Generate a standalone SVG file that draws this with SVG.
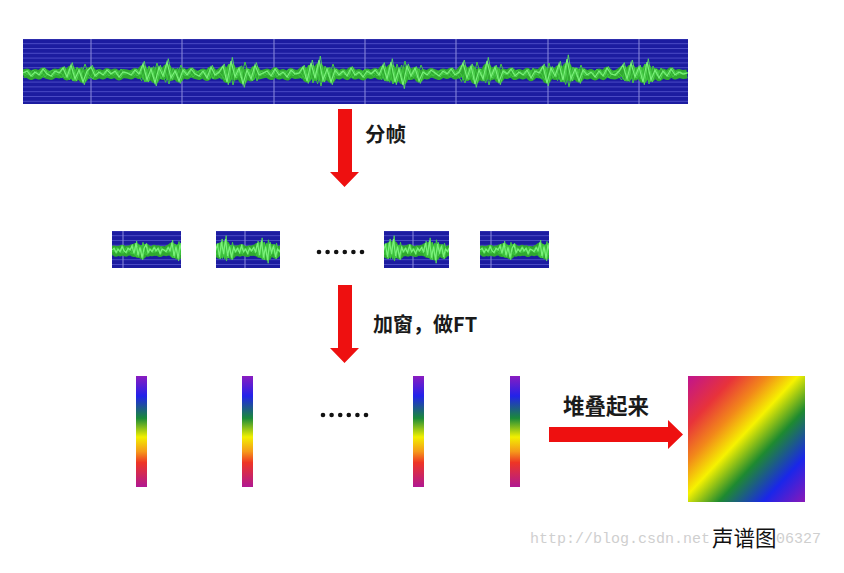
<svg xmlns="http://www.w3.org/2000/svg" xmlns:xlink="http://www.w3.org/1999/xlink" width="844" height="573" viewBox="0 0 844 573">
<style>
.vl{stroke:#8c8cdc;stroke-width:1}
.arrow{fill:#ee1010}
.lbl{font-family:"Noto Sans CJK SC","Noto Sans",sans-serif;font-weight:bold;fill:#1a1a1a}
.lbl2{font-family:"Noto Sans CJK SC","Noto Sans",sans-serif;font-weight:normal;fill:#111}
.wm{font-family:"Liberation Mono",monospace;fill:#cfcfcf;font-size:15px}
.dot{fill:#111}
</style>
<defs>
<pattern id="hl" patternUnits="userSpaceOnUse" x="0" y="0" width="20" height="4.8">
<rect width="20" height="4.8" fill="#1c1ca0"/>
<rect y="0" width="20" height="0.9" fill="#4e4ec8"/>
</pattern>
<polyline id="wl" vector-effect="non-scaling-stroke" fill="none" points="23,73 27,71 31,76 35,72 39,75 43,69 47,74 51,76 55,71 59,73 63,68 67,77 71,65 75,79 79,70 83,82 87,71 91,67 95,76 99,72 103,75 107,70 111,74 115,71 119,77 123,72 127,73 131,75 135,70 139,74 143,64 147,80 151,69 155,83 159,67 163,76 167,62 171,78 175,71 179,81 183,70 187,75 191,69 195,74 199,76 203,71 207,78 211,67 215,75 219,72 223,66 227,82 231,61 235,77 239,68 243,84 247,70 251,79 255,65 259,75 263,73 267,71 271,76 275,69 279,75 283,72 287,77 291,70 295,74 299,73 303,67 307,81 311,63 315,78 319,60 323,80 327,69 331,82 335,70 339,75 343,71 347,76 351,68 355,75 359,72 363,77 367,71 371,74 375,70 379,75 383,65 387,79 391,62 395,82 399,69 403,85 407,66 411,76 415,68 419,81 423,72 427,75 431,70 435,73 439,76 443,71 447,74 451,69 455,75 459,72 463,63 467,78 471,66 475,84 479,70 483,79 487,61 491,77 495,67 499,82 503,71 507,74 511,69 515,76 519,72 523,75 527,70 531,78 535,71 539,73 543,66 547,83 551,68 555,76 559,64 563,80 567,59 571,79 575,69 579,81 583,70 587,75 591,72 595,77 599,71 603,76 607,68 611,74 615,75 619,71 623,65 627,79 631,63 635,77 639,67 643,82 647,62 651,80 655,70 659,78 663,71 667,76 671,69 675,75 679,72 683,74 687,73"/>
<g id="waveArt">
<use xlink:href="#wl" transform="translate(0,74) scale(1,0.5) translate(0,-73)" stroke="#30a830" stroke-width="9" stroke-linejoin="round"/>
<use xlink:href="#wl" transform="translate(2,146) scale(1,-1)" stroke="#44c844" stroke-width="1"/>
<use xlink:href="#wl" transform="translate(1.3,73) scale(1,1.3) translate(0,-73)" stroke="#58dc58" stroke-width="0.9"/>
<use xlink:href="#wl" transform="translate(-1.4,74) scale(1,-0.75) translate(0,-73)" stroke="#3cc23c" stroke-width="1"/>
<use xlink:href="#wl" stroke="#7af07a" stroke-width="1.2"/>
</g>
<clipPath id="c0"><rect x="23" y="39" width="665" height="65"/></clipPath>
<clipPath id="c1"><rect x="112" y="231" width="69" height="37"/></clipPath>
<clipPath id="c2"><rect x="216" y="231" width="64" height="37"/></clipPath>
<clipPath id="c3"><rect x="384" y="231" width="65" height="37"/></clipPath>
<clipPath id="c4"><rect x="480" y="231" width="69" height="37"/></clipPath>
<linearGradient id="spec" x1="0" y1="0" x2="0" y2="1">
<stop offset="0" stop-color="#8a1cc0"/>
<stop offset="0.18" stop-color="#2222ea"/>
<stop offset="0.38" stop-color="#1a8a3a"/>
<stop offset="0.55" stop-color="#f2f000"/>
<stop offset="0.68" stop-color="#f59a1a"/>
<stop offset="0.78" stop-color="#ee3525"/>
<stop offset="1" stop-color="#b01892"/>
</linearGradient>
<linearGradient id="sq" x1="0" y1="0" x2="1" y2="1">
<stop offset="0" stop-color="#c0148e"/>
<stop offset="0.2" stop-color="#e8333a"/>
<stop offset="0.34" stop-color="#f2881a"/>
<stop offset="0.47" stop-color="#f6f200"/>
<stop offset="0.63" stop-color="#1e8a30"/>
<stop offset="0.82" stop-color="#1a26ea"/>
<stop offset="1" stop-color="#8a18b8"/>
</linearGradient>
</defs>
<rect width="844" height="573" fill="#ffffff"/>

<g id="signal">
<rect x="23" y="39" width="665" height="65" fill="url(#hl)"/>
<g class="vl">
<line x1="91" y1="39" x2="91" y2="104"/><line x1="182" y1="39" x2="182" y2="104"/><line x1="274" y1="39" x2="274" y2="104"/><line x1="365" y1="39" x2="365" y2="104"/><line x1="456" y1="39" x2="456" y2="104"/><line x1="548" y1="39" x2="548" y2="104"/><line x1="639" y1="39" x2="639" y2="104"/>
</g>
<g clip-path="url(#c0)"><use xlink:href="#waveArt"/></g>
</g>

<g id="frame1">
<rect x="112" y="231" width="69" height="37" fill="url(#hl)"/>
<line class="vl" x1="123" y1="231" x2="123" y2="268"/>
<g clip-path="url(#c1)"><use xlink:href="#waveArt" transform="translate(112,250) scale(0.5,0.85) translate(-23,-73)"/></g>
</g>
<g id="frame2">
<rect x="216" y="231" width="64" height="37" fill="url(#hl)"/>
<line class="vl" x1="245" y1="231" x2="245" y2="268"/>
<g clip-path="url(#c2)"><use xlink:href="#waveArt" transform="translate(216,250) scale(0.5,0.85) translate(-300,-73)"/></g>
</g>
<g id="dots1">
<circle class="dot" cx="319" cy="252" r="2.3"/><circle class="dot" cx="327.6" cy="252" r="2.3"/><circle class="dot" cx="336.2" cy="252" r="2.3"/><circle class="dot" cx="344.8" cy="252" r="2.3"/><circle class="dot" cx="353.4" cy="252" r="2.3"/><circle class="dot" cx="362" cy="252" r="2.3"/>
</g>
<g id="frame3">
<rect x="384" y="231" width="65" height="37" fill="url(#hl)"/>
<line class="vl" x1="413" y1="231" x2="413" y2="268"/>
<g clip-path="url(#c3)"><use xlink:href="#waveArt" transform="translate(384,250) scale(0.5,0.85) translate(-300,-73)"/></g>
</g>
<g id="frame4">
<rect x="480" y="231" width="69" height="37" fill="url(#hl)"/>
<line class="vl" x1="491" y1="231" x2="491" y2="268"/>
<g clip-path="url(#c4)"><use xlink:href="#waveArt" transform="translate(480,250) scale(0.5,0.85) translate(-23,-73)"/></g>
</g>

<g id="spec1"><rect x="136" y="376" width="11" height="111" fill="url(#spec)"/></g>
<g id="spec2"><rect x="242" y="376" width="11" height="111" fill="url(#spec)"/></g>
<g id="dots2">
<circle class="dot" cx="323" cy="415" r="2.3"/><circle class="dot" cx="331.6" cy="415" r="2.3"/><circle class="dot" cx="340.2" cy="415" r="2.3"/><circle class="dot" cx="348.8" cy="415" r="2.3"/><circle class="dot" cx="357.4" cy="415" r="2.3"/><circle class="dot" cx="366" cy="415" r="2.3"/>
</g>
<g id="spec3"><rect x="413" y="376" width="11" height="111" fill="url(#spec)"/></g>
<g id="spec4"><rect x="510" y="376" width="10" height="111" fill="url(#spec)"/></g>

<g id="spectrogram">
<rect x="688" y="376" width="117" height="126" fill="url(#sq)"/>
<text class="wm" x="530" y="543">http://blog.csdn.net</text>
<text class="wm" x="776" y="543">06327</text>
<text class="lbl2" x="712" y="546" font-size="21.5">声谱图</text>
</g>

<g id="connectors">
<polygon class="arrow" points="338,109 352,109 352,172 359,172 344.5,187 330,172 338,172"/>
<text class="lbl" x="365" y="142" font-size="20.5">分帧</text>
<polygon class="arrow" points="338,285 352,285 352,348 359,348 344.5,363 330,348 338,348"/>
<text class="lbl" x="373" y="332" font-size="20">加窗，做FT</text>
<polygon class="arrow" points="549,427 668,427 668,420 683,434.5 668,449 668,442 549,442"/>
<text class="lbl" x="563" y="414" font-size="21.5">堆叠起来</text>
</g>
</svg>
